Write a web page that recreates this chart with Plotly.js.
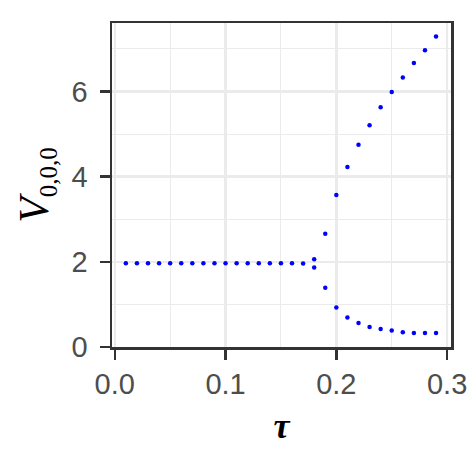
<!DOCTYPE html>
<html>
<head>
<meta charset="utf-8">
<script src="https://cdn.plot.ly/plotly-3.0.1.min.js"></script>
<style>html,body{margin:0;padding:0;background:#fff}#chart{width:474px;height:468px}</style>
</head>
<body>
<div id="chart"></div>
<script>
// tau values (x)
var tau = [0.01,0.02,0.03,0.04,0.05,0.06,0.07,0.08,0.09,0.10,0.11,0.12,0.13,0.14,0.15,0.16,0.17,0.18,0.18,
           0.19,0.20,0.21,0.22,0.23,0.24,0.25,0.26,0.27,0.28,0.29,
           0.19,0.20,0.21,0.22,0.23,0.24,0.25,0.26,0.27,0.28,0.29];
// V_{0,0,0} values (y)
var V000 = [1.97,1.97,1.97,1.97,1.97,1.97,1.97,1.97,1.97,1.97,1.97,1.97,1.97,1.97,1.97,1.97,1.96,2.06,1.87,
            2.66,3.57,4.23,4.75,5.21,5.63,5.99,6.33,6.67,6.97,7.29,
            1.39,0.93,0.69,0.565,0.47,0.42,0.385,0.345,0.33,0.33,0.33];
var xTicks = [0.0,0.1,0.2,0.3];
var xTickText = ['0.0','0.1','0.2','0.3'];
var yTicks = [0,2,4,6];
var yTickText = ['0','2','4','6'];

var trace = {
  x: tau, y: V000, type: 'scatter', mode: 'markers',
  marker: {color: '#0000FF', size: 4.5},
  hoverinfo: 'none'
};
var axisCommon = {
  showline: true, mirror: true, linecolor: '#333333', linewidth: 2.5,
  ticks: 'outside', ticklen: 10, tickwidth: 2.5, tickcolor: '#333333',
  showgrid: true, gridcolor: '#EBEBEB', gridwidth: 2.5, zeroline: false,
  tickfont: {family: 'Liberation Sans, Arial, sans-serif', size: 29, color: '#4D4D4D'},
  tickmode: 'array'
};
var layout = {
  width: 474, height: 468,
  margin: {l: 111.7, r: 23.3, t: 23.3, b: 121.3},
  paper_bgcolor: '#FFFFFF', plot_bgcolor: '#FFFFFF',
  showlegend: false,
  xaxis: Object.assign({}, axisCommon, {
    range: [-0.0025, 0.3035],
    tickvals: xTicks, ticktext: xTickText,
    minor: {tickvals: [0.05,0.15,0.25], showgrid: true, gridcolor: '#EBEBEB', gridwidth: 1, ticks: ''},
    title: {text: '<b><i>τ</i></b>', font: {family: 'Liberation Serif, Times New Roman, serif', size: 36, color: '#000000'}, standoff: 14}
  }),
  yaxis: Object.assign({}, axisCommon, {
    range: [0, 7.61],
    tickvals: yTicks, ticktext: yTickText,
    ticklabelstandoff: 6,
    minor: {tickvals: [1,3,5,7], showgrid: true, gridcolor: '#EBEBEB', gridwidth: 1, ticks: ''},
    title: {text: '<i>V</i><sub><span style="font-size:25px">0,0,0</span></sub>', font: {family: 'Liberation Serif, Times New Roman, serif', size: 42, color: '#000000'}, standoff: 10}
  })
};
Plotly.newPlot('chart', [trace], layout, {staticPlot: true, displayModeBar: false});
</script>
</body>
</html>
